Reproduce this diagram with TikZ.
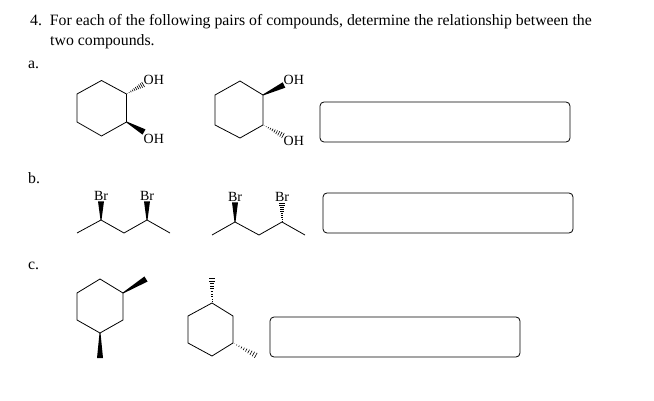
\documentclass[tikz,border=0pt]{standalone}
\usepackage{fontspec}
\setmainfont{Liberation Serif}
\usetikzlibrary{calc}
\tikzset{bond/.style={line width=0.8pt},lbl/.style={font=\fontsize{14}{16}\selectfont,inner sep=0.5pt},
 ansbox/.style={draw,line width=0.8pt,rounded corners=4pt,minimum width=250pt,minimum height=40pt},
 txt/.style={font=\fontsize{15.8}{18}\selectfont,anchor=west,inner sep=0pt}}
\newcommand{\wdg}[2]{\fill ($(#1)!0.5pt!90:(#2)$) -- ($(#1)!0.5pt!-90:(#2)$) -- ($(#2)!3pt!90:(#1)$) -- ($(#2)!3pt!-90:(#1)$) -- cycle;}
\newcommand{\hsh}[2]{\foreach \t in {0.05,0.15,...,1.0}{\draw[line width=0.6pt] ($(#1)!\t!(#2)!{\t*3pt}!90:(#2)$) -- ($(#1)!\t!(#2)!{\t*3pt}!-90:(#2)$);}}
\newcommand{\hexa}[7]{\coordinate (#1a) at #2; \coordinate (#1b) at #3; \coordinate (#1c) at #4; \coordinate (#1d) at #5; \coordinate (#1e) at #6; \coordinate (#1f) at #7;
 \draw[bond] (#1a)--(#1b)--(#1c)--(#1d)--(#1e)--(#1f)--cycle;}
\begin{document}
\begin{tikzpicture}[x=1pt,y=-1pt]
\useasboundingbox (0,0) rectangle (654,401);
\node[txt] (q1) at (30,22) {4.\ \ For each of the following pairs of compounds, determine the relationship between the};
\node[txt] (q2) at (50,42) {two compounds.};
\node[txt] (la) at (28,65) {a.};
\node[txt] (lb) at (28,178) {b.};
\node[txt] (lc) at (28,266) {c.};
% a1
\hexa{A}{(101.5,80.5)}{(126.5,94)}{(126.5,122)}{(101.5,136)}{(77,122)}{(77,94)}
\node[lbl,anchor=west] (oh1) at (143,80) {OH};
\node[lbl,anchor=west] (oh2) at (143,139) {OH};
\coordinate (h1) at (144,84); \coordinate (h2) at (144,132);
\hsh{Ab}{h1} \wdg{Ac}{h2}
% a2
\hexa{B}{(240,81)}{(263,95)}{(263,125)}{(240,138)}{(215,125)}{(215,95)}
\node[lbl,anchor=west] (oh3) at (283,80) {OH};
\node[lbl,anchor=west] (oh4) at (283,141) {OH};
\coordinate (h3) at (284,85); \coordinate (h4) at (284,136);
\wdg{Bb}{h3} \hsh{Bc}{h4}
\node[ansbox] (boxa) at (445,122) {};
% b1
\coordinate (c1) at (77,233); \coordinate (c2) at (101,220); \coordinate (c3) at (124,233); \coordinate (c4) at (147,220); \coordinate (c5) at (170,233);
\draw[bond] (c1)--(c2)--(c3)--(c4)--(c5);
\node[lbl] (br1) at (101,196) {Br}; \node[lbl] (br2) at (147,196) {Br};
\wdg{c2}{br1.south} \wdg{c4}{br2.south}
% b2
\coordinate (d1) at (212,235); \coordinate (d2) at (235,222); \coordinate (d3) at (259,235); \coordinate (d4) at (282,222); \coordinate (d5) at (305,235);
\draw[bond] (d1)--(d2)--(d3)--(d4)--(d5);
\node[lbl] (br3) at (235,197) {Br}; \node[lbl] (br4) at (282,197) {Br};
\wdg{d2}{br3.south} \hsh{d4}{br4.south}
\node[ansbox] (boxb) at (448,213) {};
% c1
\hexa{C}{(100,279)}{(123,293)}{(123,320)}{(100,333)}{(77,320)}{(77,293)}
\coordinate (m1) at (146,279); \coordinate (m2) at (100,358);
\wdg{Cb}{m1} \wdg{Cd}{m2}
% c2
\hexa{D}{(212,303)}{(233,316)}{(233,343)}{(212,356)}{(188,343)}{(188,316)}
\coordinate (m3) at (212,277); \coordinate (m4) at (257,356);
\hsh{Da}{m3} \hsh{Dc}{m4}
\node[ansbox] (boxc) at (395,337) {};
\end{tikzpicture}
\end{document}
